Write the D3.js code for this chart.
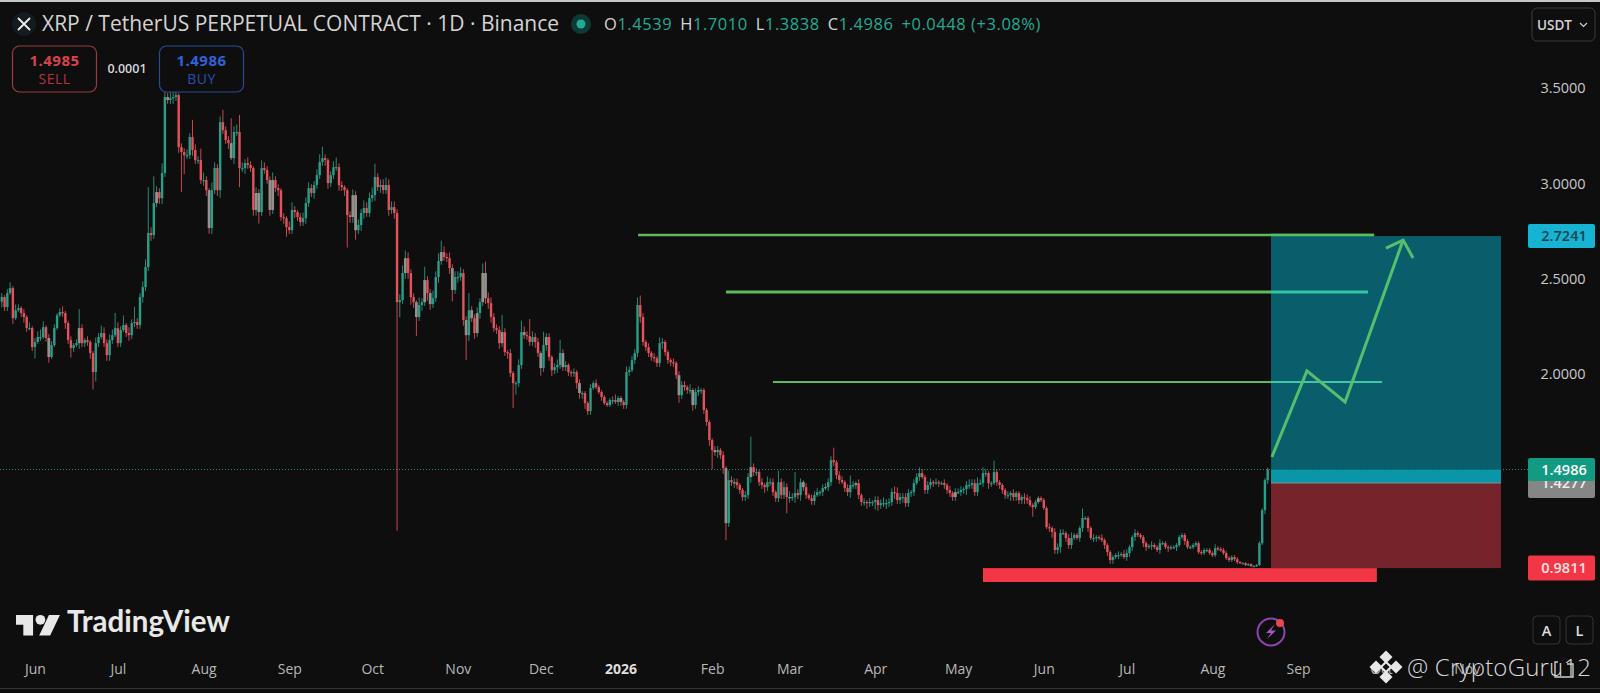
<!DOCTYPE html>
<html><head><meta charset="utf-8">
<script src="https://cdn.jsdelivr.net/npm/d3@7/dist/d3.min.js"></script>
<style>
html,body{margin:0;padding:0;background:#0e0e0e;overflow:hidden}
svg{display:block}
text{font-family:"Open Sans",Roboto,sans-serif}
</style></head><body>
<svg id="c" width="1600" height="693"></svg>
<script>
// ---- data (XRP/USDT daily, 20 May 2025 .. 21 Aug 2026) ----
const firstOpen = 2.38;
const closes = [
2.404,2.351,2.425,2.451,2.293,2.335,2.346,2.320,2.299,2.241,2.241,2.141,2.168,2.194,2.194,2.246,2.189,2.089,2.152,2.241,
2.309,2.325,2.320,2.267,2.178,2.136,2.152,2.162,2.241,2.162,2.178,2.168,2.110,2.010,2.162,2.194,2.215,2.162,2.099,2.178,
2.204,2.241,2.162,2.231,2.257,2.215,2.204,2.267,2.273,2.257,2.404,2.456,2.561,2.740,2.729,2.897,2.955,2.923,3.055,3.454,
3.438,3.448,3.454,3.464,3.191,3.165,3.149,3.149,3.244,3.176,3.123,3.123,3.018,3.018,2.965,2.766,2.965,3.081,2.965,3.322,
3.280,3.228,3.212,3.133,3.270,3.270,3.081,3.081,3.107,3.097,3.081,2.861,2.950,2.850,3.081,3.071,3.018,2.861,3.018,2.976,
2.965,2.824,2.818,2.771,2.755,2.861,2.850,2.824,2.797,2.818,2.897,2.976,2.950,2.992,3.044,3.113,3.133,3.123,3.002,3.044,
3.086,3.086,2.992,2.981,2.965,2.834,2.824,2.939,2.755,2.782,2.845,2.871,2.845,2.923,2.939,3.034,2.981,2.992,2.965,2.992,
2.861,2.876,2.845,2.377,2.388,2.530,2.608,2.530,2.404,2.377,2.299,2.362,2.377,2.493,2.425,2.367,2.398,2.509,2.593,2.640,
2.614,2.608,2.556,2.441,2.509,2.509,2.530,2.283,2.204,2.335,2.293,2.215,2.320,2.377,2.530,2.398,2.372,2.299,2.241,2.231,
2.162,2.220,2.115,2.110,2.005,1.952,1.952,2.047,2.220,2.204,2.199,2.168,2.194,2.168,2.110,2.031,2.152,2.194,2.089,2.020,
2.036,2.047,2.110,2.036,2.047,2.010,2.005,2.010,1.952,1.900,1.900,1.847,1.805,1.926,1.952,1.931,1.905,1.879,1.847,1.837,
1.863,1.863,1.853,1.874,1.853,1.837,2.010,2.020,2.073,2.110,2.362,2.299,2.168,2.141,2.110,2.089,2.083,2.057,2.162,2.168,
2.115,2.073,2.062,2.057,1.994,1.889,1.942,1.931,1.916,1.916,1.837,1.905,1.916,1.916,1.811,1.748,1.653,1.601,1.590,1.601,
1.574,1.506,1.217,1.443,1.432,1.432,1.417,1.391,1.354,1.364,1.459,1.511,1.485,1.485,1.432,1.417,1.406,1.432,1.432,1.380,
1.348,1.432,1.364,1.406,1.354,1.354,1.354,1.375,1.364,1.432,1.406,1.364,1.348,1.333,1.364,1.380,1.380,1.401,1.406,1.432,
1.548,1.537,1.469,1.443,1.432,1.401,1.380,1.417,1.417,1.427,1.364,1.328,1.328,1.322,1.328,1.328,1.338,1.312,1.322,1.322,
1.322,1.328,1.380,1.375,1.338,1.354,1.354,1.322,1.375,1.380,1.427,1.459,1.480,1.459,1.391,1.417,1.432,1.427,1.432,1.427,
1.427,1.417,1.391,1.375,1.354,1.380,1.380,1.391,1.396,1.417,1.417,1.427,1.380,1.427,1.427,1.480,1.480,1.427,1.427,1.485,
1.432,1.417,1.391,1.364,1.364,1.375,1.354,1.375,1.338,1.354,1.348,1.338,1.312,1.301,1.328,1.348,1.338,1.296,1.196,1.191,
1.170,1.076,1.091,1.165,1.165,1.139,1.102,1.139,1.155,1.139,1.191,1.244,1.244,1.191,1.139,1.139,1.144,1.139,1.128,1.102,
1.065,1.023,1.039,1.049,1.049,1.055,1.039,1.060,1.091,1.144,1.165,1.155,1.144,1.112,1.091,1.097,1.102,1.091,1.076,1.112,
1.112,1.091,1.086,1.091,1.091,1.102,1.144,1.155,1.123,1.091,1.091,1.102,1.112,1.065,1.060,1.076,1.076,1.060,1.049,1.086,
1.081,1.076,1.060,1.034,1.023,1.039,1.028,1.013,1.007,1.007,0.997,1.002,0.992,0.992,0.997,1.112,1.285,1.443,1.4986
];
const upperWicks = [
.02,.01,.02,.03,.01,.03,.02,.01,.02,.01,.03,.01,.02,.03,.04,.03,.01,.02,.02,.02,
.01,.02,.03,.01,.01,.02,.01,.02,.02,.02,.01,.02,.01,.01,.03,.02,.04,.03,.02,.03,
.03,.02,.03,.02,.02,.01,.03,.02,.03,.02,.02,.03,.04,.02,.03,.02,.03,.02,.05,.04,
.02,.03,.03,.03,.01,.02,.02,.03,.02,.02,.03,.02,.03,.04,.02,.01,.04,.03,.02,.03,
.03,.02,.02,.03,.03,.04,.02,.03,.02,.03,.02,.01,.03,.02,.04,.03,.02,.02,.04,.02,
.02,.01,.02,.01,.03,.04,.02,.01,.02,.03,.03,.03,.02,.02,.03,.04,.03,.02,.01,.02,
.03,.04,.02,.02,.01,.01,.02,.03,.02,.03,.02,.04,.03,.03,.04,.04,.02,.03,.03,.04,
.03,.03,.03,.02,.03,.04,.03,.03,.02,.02,.01,.04,.02,.05,.02,.02,.04,.03,.04,.03,
.03,.02,.03,.02,.03,.03,.03,.02,.02,.03,.02,.02,.03,.02,.04,.02,.03,.03,.02,.02,
.02,.03,.02,.01,.02,.01,.01,.03,.03,.03,.02,.02,.03,.02,.02,.01,.03,.02,.02,.01,
.02,.03,.04,.02,.02,.01,.01,.02,.01,.02,.01,.01,.01,.02,.01,.02,.01,.01,.01,.01,
.01,.02,.03,.01,.01,.01,.03,.02,.02,.02,.04,.02,.02,.01,.02,.01,.02,.01,.03,.02,
.01,.01,.01,.02,.01,.02,.02,.02,.01,.03,.01,.02,.02,.01,.01,.01,.01,.01,.02,.02,
.01,.02,.01,.03,.02,.02,.02,.01,.01,.02,.02,.02,.02,.02,.01,.02,.01,.03,.02,.02,
.01,.03,.02,.03,.02,.03,.02,.02,.02,.02,.01,.02,.01,.02,.02,.02,.01,.02,.02,.02,
.02,.01,.01,.02,.02,.01,.02,.02,.02,.01,.02,.01,.02,.01,.02,.01,.02,.02,.02,.03,
.02,.02,.02,.03,.03,.02,.02,.02,.02,.01,.02,.02,.01,.02,.01,.02,.02,.01,.02,.01,
.01,.02,.01,.02,.01,.02,.02,.02,.01,.02,.03,.02,.02,.03,.02,.02,.02,.01,.01,.02,
.01,.01,.01,.01,.02,.01,.02,.01,.01,.01,.02,.02,.02,.01,.01,.01,.01,.01,.01,.02,
.01,.02,.02,.02,.02,.01,.02,.03,.01,.01,.01,.02,.01,.01,.01,.02,.01,.01,.02,.01,
.01,.01,.01,.01,.02,.01,.02,.02,.01,.01,.02,.01,.01,.01,.01,.01,.02,.01,.01,.02,
.01,.01,.01,.01,.01,.01,.01,.01,.01,.01,.01,.01,.01,.01,.01,.01,.01,.01,.01,.02,
.01,.01,.01,.01,.01,.01,.01,.01,.005,.005,.005,.005,.005,.005,.005,.01,.01,.01,.01
];
const lowerWicks = [
.03,.02,.02,.01,.03,.01,.01,.02,.03,.02,.01,.02,.03,.01,.02,.01,.02,.03,.01,.01,
.01,.01,.02,.03,.02,.03,.02,.01,.03,.02,.02,.02,.03,.03,.03,.02,.01,.02,.03,.03,
.02,.01,.02,.02,.01,.02,.03,.02,.02,.02,.02,.03,.02,.02,.03,.02,.02,.03,.03,.02,
.02,.02,.03,.02,.03,.02,.01,.02,.02,.03,.02,.02,.02,.03,.03,.03,.03,.02,.03,.04,
.02,.02,.03,.01,.03,.02,.03,.02,.03,.02,.02,.03,.03,.03,.02,.02,.02,.03,.02,.02,
.03,.02,.03,.03,.02,.02,.03,.02,.02,.02,.03,.02,.02,.03,.02,.02,.02,.03,.03,.02,
.02,.02,.03,.02,.03,.02,.03,.03,.03,.02,.03,.03,.02,.02,.02,.03,.02,.03,.02,.02,
.03,.02,.03,.02,.03,.02,.03,.03,.04,.03,.03,.02,.03,.02,.04,.03,.02,.02,.03,.02,
.02,.02,.03,.03,.02,.03,.02,.03,.03,.03,.02,.03,.02,.03,.02,.03,.03,.03,.02,.02,
.03,.02,.02,.03,.02,.02,.02,.02,.02,.02,.02,.02,.02,.03,.02,.02,.02,.03,.02,.03,
.02,.03,.02,.02,.02,.02,.02,.02,.03,.03,.03,.03,.02,.02,.01,.01,.01,.02,.01,.01,
.01,.02,.01,.02,.02,.02,.02,.02,.01,.02,.02,.03,.02,.02,.02,.02,.02,.02,.02,.03,
.02,.02,.02,.02,.02,.03,.02,.02,.02,.02,.03,.02,.02,.02,.02,.02,.03,.03,.02,.03,
.02,.03,.05,.02,.02,.03,.02,.02,.02,.02,.02,.03,.02,.02,.02,.02,.03,.02,.02,.02,
.02,.02,.02,.02,.02,.03,.02,.03,.02,.03,.02,.02,.01,.02,.02,.01,.02,.02,.01,.02,
.02,.02,.02,.02,.01,.02,.02,.03,.02,.02,.02,.02,.02,.03,.02,.02,.02,.03,.02,.02,
.03,.02,.02,.03,.02,.02,.03,.02,.02,.02,.02,.01,.02,.01,.02,.02,.02,.02,.01,.02,
.01,.02,.02,.02,.02,.02,.01,.02,.02,.03,.02,.02,.02,.02,.01,.02,.02,.03,.02,.01,
.02,.02,.02,.02,.02,.03,.02,.02,.02,.02,.03,.02,.01,.01,.01,.01,.01,.01,.01,.02,
.02,.02,.02,.03,.01,.02,.02,.02,.01,.01,.02,.02,.01,.02,.01,.02,.02,.01,.01,.02,
.02,.02,.02,.01,.02,.01,.01,.02,.02,.02,.02,.01,.01,.02,.02,.01,.02,.01,.01,.02,
.01,.01,.02,.01,.01,.02,.01,.01,.02,.01,.01,.01,.01,.01,.01,.01,.01,.01,.01,.01,
.01,.01,.01,.01,.01,.01,.01,.01,.005,.005,.005,.005,.005,.005,.005,.005,.01,.02,.02
];
const longUpperWicks = {28:.10,41:.08,44:.05,48:.08,53:.24,55:.14,58:.05,69:.09,72:.06,80:.065,83:.13,86:.09,116:.06,121:.05,135:.07,146:.04,153:.07,159:.06,169:.09,174:.05,175:.06,181:.09,188:.06,191:.09,196:.07,202:.07,231:.05,263:.05,271:.16,281:.06,287:.11,301:.065,307:.05,332:.03,355:.03,359:.06,391:.05};
const longLowerWicks = {12:.06,17:.03,25:.05,33:.09,34:.05,65:.21,66:.10,86:.10,93:.06,103:.05,125:.17,128:.05,143:1.2,144:.08,150:.10,163:.06,168:.13,185:.13,186:.06,195:.04,245:.04,250:.03,257:.10,262:.09,284:.085,316:.04,373:.05,380:.03};
const mixedBars = [17,28,56,60,75,83,92,93,97,98,127,128,146,150,153,155,159,163,168,170,172,174,175,181,189,195,197,203,209,224,245,250,258,262,265,271,285,290,298,309,345,375];
const monthBars  = [12,42,73,104,134,165,195,226,257,285,316,346,377,407,438,469,499,530];
const monthNames = ["Jun","Jul","Aug","Sep","Oct","Nov","Dec","2026","Feb","Mar","Apr","May","Jun","Jul","Aug","Sep","Oct","Nov"];
const priceTicks = [2.0,2.5,3.0,3.5];
const lastPrice=1.4986, targetPrice=2.7241, entryPrice=1.4277, stopPrice=0.9811;
const targetLevels = [{price:2.73,from:230.2,to:496.5,inBox:"#5cbc62",w:2.5},{price:2.43,from:262,to:494.3,inBox:"#33c4a2",w:3},{price:1.958,from:279,to:499.4,inBox:"#42c6a8",w:2}];
const positionBars = [459.2,542.4];
const supportZone = {from:355,to:497.5,hi:0.9811,lo:0.908};
const arrowPath = [[459.5,1.564],[472.2,2.016],[486,1.853],[507,2.703]];
const arrowHead = [[500.8,2.661],[507,2.703],[510.6,2.609]];
const ohlc = [["O","1.4539"],["H","1.7010"],["L","1.3838"],["C","1.4986"]];

// ---- drawing ----
const svg = d3.select("#c");
const BG="#0e0e0e", UP="#2b9d88", DOWN="#e2525b", MIX="#94908e";
svg.append("rect").attr("width",1600).attr("height",693).attr("fill",BG);
svg.append("rect").attr("width",1600).attr("height",2).attr("fill","#c8c8c8");
svg.append("rect").attr("y",688).attr("width",1600).attr("height",1).attr("fill","#333");
const defs=svg.append("defs");
defs.append("filter").attr("id","soft").attr("x","-2%").attr("y","-2%").attr("width","104%").attr("height","104%")
  .append("feGaussianBlur").attr("stdDeviation",.4);

const x = d3.scaleLinear().domain([0,458]).range([1.8,1267.7]);
const y = d3.scaleLinear().domain([2,3.5]).range([374,88.25]);

const bars = closes.map((c,i)=>{
  const o = i?closes[i-1]:firstOpen;
  const up = longUpperWicks[i]!==undefined?longUpperWicks[i]:(upperWicks[i]||.01);
  const dn = longLowerWicks[i]!==undefined?longLowerWicks[i]:(lowerWicks[i]||.01);
  return {i,o,c,h:Math.max(o,c)+up,l:Math.min(o,c)-dn};
});
const mixSet = new Set(mixedBars);
const col = d=> mixSet.has(d.i)?MIX:(d.c>=d.o?UP:DOWN);

// last-price dotted line
svg.append("line").attr("x1",0).attr("x2",1530).attr("y1",y(lastPrice)).attr("y2",y(lastPrice))
  .attr("stroke","#2a8a7c").attr("stroke-width",1).attr("stroke-dasharray","1 2");

const g = svg.append("g").attr("filter","url(#soft)");
g.selectAll(".w").data(bars).join("line").attr("class","w")
  .attr("x1",d=>x(d.i)).attr("x2",d=>x(d.i)).attr("y1",d=>y(d.h)).attr("y2",d=>y(d.l))
  .attr("stroke",d=>d.c>=d.o?UP:DOWN).attr("stroke-opacity",.85).attr("stroke-width",1);
g.selectAll(".b").data(bars).join("rect").attr("class","b")
  .attr("x",d=>x(d.i)-(mixSet.has(d.i)?1.4:1.2)).attr("width",d=>mixSet.has(d.i)?2.8:2.4)
  .attr("y",d=>y(Math.max(d.o,d.c))).attr("height",d=>Math.max(1.2,Math.abs(y(d.o)-y(d.c))))
  .attr("fill",col);

// support zone
svg.append("rect").attr("x",x(supportZone.from)).attr("width",x(supportZone.to)-x(supportZone.from))
  .attr("y",y(supportZone.hi)).attr("height",y(supportZone.lo)-y(supportZone.hi)).attr("fill","#f23645");

// target levels (left part)
targetLevels.forEach(l=>{
  svg.append("line").attr("x1",x(l.from)).attr("x2",x(l.to)).attr("y1",y(l.price)).attr("y2",y(l.price))
    .attr("stroke","#5fb85f").attr("stroke-width",l.w);
});
// position box
const bx=x(positionBars[0]), bw=x(positionBars[1])-bx;
const rectP=(a,b,f)=>svg.append("rect").attr("x",bx).attr("width",bw).attr("y",y(a)).attr("height",y(b)-y(a)).attr("fill",f);
rectP(targetPrice,lastPrice,"#0a5e6c");
rectP(lastPrice,entryPrice,"#0896a8");
rectP(entryPrice,stopPrice,"#76242b");
svg.append("line").attr("x1",bx).attr("x2",bx+bw).attr("y1",y(entryPrice)).attr("y2",y(entryPrice)).attr("stroke","#999").attr("stroke-width",.8);
targetLevels.forEach(l=>{
  svg.append("line").attr("x1",bx).attr("x2",x(l.to)).attr("y1",y(l.price)).attr("y2",y(l.price))
    .attr("stroke",l.inBox).attr("stroke-width",l.w);
});
// arrow
const ln=d3.line().x(d=>x(d[0])).y(d=>y(d[1]));
svg.append("path").attr("d",ln(arrowPath)).attr("fill","none").attr("stroke","#56bf6c").attr("stroke-width",3);
svg.append("path").attr("d",ln(arrowHead)).attr("fill","none").attr("stroke","#56bf6c").attr("stroke-width",3);

// price axis
const yAxis=d3.axisRight(y).tickValues(priceTicks).tickFormat(d3.format(".4f")).tickSize(0).tickPadding(0);
const ya=svg.append("g").attr("transform","translate(1563,0)").call(yAxis);
ya.select(".domain").remove();
ya.selectAll("text").attr("text-anchor","middle").attr("fill","#c9c9c9").style("font-size","14.5px").style("font-family","'Open Sans'");

// price labels
function tag(yc,h,fill,txt,fg,base){
  const t=svg.append("g");
  t.append("rect").attr("x",1528).attr("y",yc-h/2).attr("width",67).attr("height",h).attr("rx",2).attr("fill",fill);
  t.append("text").attr("x",1564).attr("y",base).attr("text-anchor","middle").attr("fill",fg).style("font-size","14.5px").style("font-weight",600).text(txt);
}
tag(y(entryPrice)+3,24,"#868686",d3.format(".4f")(entryPrice),"#eee",y(entryPrice)+5);
tag(y(lastPrice),23,"#129a82",d3.format(".4f")(lastPrice),"#fff",y(lastPrice)+5);
tag(y(targetPrice),24,"#16b4d2",d3.format(".4f")(targetPrice),"#17424f",y(targetPrice)+5);
tag(y(stopPrice),25,"#f23645",d3.format(".4f")(stopPrice),"#f5e6e6",y(stopPrice)+5);

// time axis
const xAxis=d3.axisBottom(x).tickValues(monthBars).tickFormat((d,i)=>monthNames[i]).tickSize(0).tickPadding(0);
const xa=svg.append("g").attr("transform","translate(0,664)").call(xAxis);
xa.select(".domain").remove();
xa.selectAll("text").style("font-size","14px").style("font-weight",d=>d===226?700:400)
  .attr("fill",d=>d===226?"#dedede":"#b8b8b8").attr("dx",d=>d===226?-6:0);

// header
svg.append("circle").attr("cx",24).attr("cy",24).attr("r",12).attr("fill","#141c20");
svg.append("path").attr("d","M18 18L30 30M30 18L18 30").attr("stroke","#eee").attr("stroke-width",1.8);
svg.append("text").attr("x",42).attr("y",31).attr("fill","#d4d4d4").style("font-size","21px")
  .text("XRP / TetherUS PERPETUAL CONTRACT · 1D · Binance");
svg.append("circle").attr("cx",581).attr("cy",24).attr("r",10).attr("fill","#0f3a34");
svg.append("circle").attr("cx",581).attr("cy",24).attr("r",4.5).attr("fill","#22ab94");
const ot=svg.append("text").attr("x",604).attr("y",30).style("font-size","16.5px").style("letter-spacing","0.55px");
ohlc.forEach(([k,v])=>{
  ot.append("tspan").attr("fill","#d6d6d6").attr("dx",k==="O"?0:8).text(k);
  ot.append("tspan").attr("fill","#22ab94").text(v);
});
ot.append("tspan").attr("fill","#22ab94").attr("dx",8).text("+0.0448 (+3.08%)");

// sell / buy
function trade(xx,w,stroke,fg,a,b){
  svg.append("rect").attr("x",xx).attr("y",46).attr("width",w).attr("height",46).attr("rx",7).attr("fill",BG).attr("stroke",stroke).attr("stroke-width",1.2);
  svg.append("text").attr("x",xx+w/2).attr("y",66).attr("text-anchor","middle").attr("fill",fg).style("font-size","15px").style("font-weight",700).style("letter-spacing","0.5px").text(a);
  svg.append("text").attr("x",xx+w/2).attr("y",84).attr("text-anchor","middle").attr("fill",fg).attr("fill-opacity",.8).style("font-size","14px").style("letter-spacing","0.5px").text(b);
}
trade(12.5,84,"#9a3a40","#d8434e","1.4985","SELL");
trade(159.5,84,"#2a4a98","#2f62dc","1.4986","BUY");
svg.append("text").attr("x",127).attr("y",73).attr("text-anchor","middle").attr("fill","#d8d8d8").style("font-size","12.5px").style("font-weight",600).text("0.0001");

// USDT button
svg.append("rect").attr("x",1532).attr("y",8).attr("width",63).attr("height",33).attr("rx",5).attr("fill",BG).attr("stroke","#3a3a3a");
svg.append("text").attr("x",1537).attr("y",30).attr("fill","#d2d2d2").style("font-size","13.5px").style("font-weight",600).text("USDT");
svg.append("path").attr("d","M1580 23l3.5 3.5l3.5-3.5").attr("fill","none").attr("stroke","#d2d2d2").attr("stroke-width",1.2);

// A / L
[[1533,"A"],[1566,"L"]].forEach(([xx,t])=>{
  svg.append("rect").attr("x",xx).attr("y",616).attr("width",27).attr("height",28).attr("rx",4).attr("fill",BG).attr("stroke","#333");
  svg.append("text").attr("x",xx+13.5).attr("y",636).attr("text-anchor","middle").attr("fill","#ddd").style("font-size","14.5px").style("font-weight",600).text(t);
});

// lightning badge
svg.append("circle").attr("cx",1271).attr("cy",632).attr("r",13.5).attr("fill","none").attr("stroke","#8e44ad").attr("stroke-width",2);
svg.append("path").attr("d","M1275 624l-9 9h5l-4 6l9-8.5h-5z").attr("fill","#a855c8");
svg.append("circle").attr("cx",1280).attr("cy",623).attr("r",4).attr("fill","#e5484d");

// TradingView logo
const tv=svg.append("g").attr("transform","translate(16,610) scale(1.22)").attr("fill","#e8e8e8");
tv.append("path").attr("d","M14 4H0v8h6v9h8zM28 21h-9l8-17h9z");
tv.append("circle").attr("cx",20).attr("cy",8).attr("r",4);
svg.append("text").attr("x",67).attr("y",632).attr("fill","#e8e8e8").style("font-size","29.5px").style("font-weight",700).style("font-family","Lato,'Open Sans'").text("TradingView");

// watermark
const wm=svg.append("g").attr("transform","translate(1386,667)");
[[0,-10],[-10,0],[10,0],[0,10],[0,0]].forEach(([a,b])=>{
  wm.append("rect").attr("x",a-4.6).attr("y",b-4.6).attr("width",9.2).attr("height",9.2).attr("transform",`rotate(45 ${a} ${b})`).attr("fill","#e8e8e8");
});
wm.append("rect").attr("x",-2.5).attr("y",-2.5).attr("width",5).attr("height",5).attr("transform","rotate(45)").attr("fill",BG);
svg.append("text").attr("x",1407).attr("y",676).attr("fill","#d8d8d8").attr("textLength",184).style("font-size","24px").style("font-weight",300).text("@ CryptoGuru12");
svg.append("path").attr("d","M1558 662h-3v15h18v-13h-6").attr("fill","none").attr("stroke","#cfcfcf").attr("stroke-width",1.4);
</script>
</body></html>
